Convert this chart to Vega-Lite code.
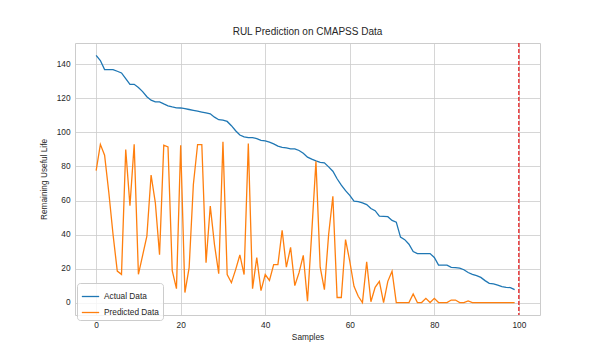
{
  "$schema": "https://vega.github.io/schema/vega-lite/v6.json",
  "width": 465,
  "height": 272,
  "autosize": {"type": "none"},
  "padding": {"left": 75, "top": 43, "right": 60, "bottom": 45},
  "background": "white",
  "config": {
    "font": "Liberation Sans",
    "view": {"stroke": "#cccccc", "strokeWidth": 1},
    "axis": {"grid": true, "gridColor": "#cccccc", "gridWidth": 0.8, "domain": false, "ticks": false, "labelFont": "Liberation Sans", "labelFontSize": 8.3, "labelColor": "#262626", "titleFont": "Liberation Sans", "titleFontSize": 8.3, "titleFontWeight": "normal", "titleColor": "#262626"},
    "title": {"font": "Liberation Sans", "fontSize": 10, "fontWeight": "normal", "color": "#262626", "offset": 5}
  },
  "title": {"text": "RUL Prediction on CMAPSS Data", "anchor": "middle"},
  "datasets": {
    "series": [
      {"sample":0,"series":"Actual Data","value":145.3},{"sample":1,"series":"Actual Data","value":142.3},{"sample":2,"series":"Actual Data","value":137},{"sample":3,"series":"Actual Data","value":137},{"sample":4,"series":"Actual Data","value":137},{"sample":5,"series":"Actual Data","value":136},{"sample":6,"series":"Actual Data","value":135},{"sample":7,"series":"Actual Data","value":131.6},{"sample":8,"series":"Actual Data","value":128.3},{"sample":9,"series":"Actual Data","value":128.3},
      {"sample":10,"series":"Actual Data","value":126.4},{"sample":11,"series":"Actual Data","value":124},{"sample":12,"series":"Actual Data","value":121},{"sample":13,"series":"Actual Data","value":119},{"sample":14,"series":"Actual Data","value":118},{"sample":15,"series":"Actual Data","value":118},{"sample":16,"series":"Actual Data","value":116.8},{"sample":17,"series":"Actual Data","value":115.7},{"sample":18,"series":"Actual Data","value":115},{"sample":19,"series":"Actual Data","value":114.5},
      {"sample":20,"series":"Actual Data","value":114.4},{"sample":21,"series":"Actual Data","value":114},{"sample":22,"series":"Actual Data","value":113.5},{"sample":23,"series":"Actual Data","value":113},{"sample":24,"series":"Actual Data","value":112.5},{"sample":25,"series":"Actual Data","value":112},{"sample":26,"series":"Actual Data","value":111.5},{"sample":27,"series":"Actual Data","value":111},{"sample":28,"series":"Actual Data","value":109},{"sample":29,"series":"Actual Data","value":107.5},
      {"sample":30,"series":"Actual Data","value":107.3},{"sample":31,"series":"Actual Data","value":106.5},{"sample":32,"series":"Actual Data","value":104},{"sample":33,"series":"Actual Data","value":101},{"sample":34,"series":"Actual Data","value":98.5},{"sample":35,"series":"Actual Data","value":97.4},{"sample":36,"series":"Actual Data","value":97},{"sample":37,"series":"Actual Data","value":97},{"sample":38,"series":"Actual Data","value":96.4},{"sample":39,"series":"Actual Data","value":95.4},
      {"sample":40,"series":"Actual Data","value":95},{"sample":41,"series":"Actual Data","value":94.3},{"sample":42,"series":"Actual Data","value":93.3},{"sample":43,"series":"Actual Data","value":92},{"sample":44,"series":"Actual Data","value":91.3},{"sample":45,"series":"Actual Data","value":91},{"sample":46,"series":"Actual Data","value":90.4},{"sample":47,"series":"Actual Data","value":90.4},{"sample":48,"series":"Actual Data","value":89.4},{"sample":49,"series":"Actual Data","value":87.8},
      {"sample":50,"series":"Actual Data","value":85.5},{"sample":51,"series":"Actual Data","value":84.3},{"sample":52,"series":"Actual Data","value":83.3},{"sample":53,"series":"Actual Data","value":82.4},{"sample":54,"series":"Actual Data","value":82.2},{"sample":55,"series":"Actual Data","value":79.8},{"sample":56,"series":"Actual Data","value":77.2},{"sample":57,"series":"Actual Data","value":72.8},{"sample":58,"series":"Actual Data","value":69},{"sample":59,"series":"Actual Data","value":65.8},
      {"sample":60,"series":"Actual Data","value":63},{"sample":61,"series":"Actual Data","value":59.6},{"sample":62,"series":"Actual Data","value":59.4},{"sample":63,"series":"Actual Data","value":58.6},{"sample":64,"series":"Actual Data","value":57.6},{"sample":65,"series":"Actual Data","value":55.3},{"sample":66,"series":"Actual Data","value":54},{"sample":67,"series":"Actual Data","value":50.8},{"sample":68,"series":"Actual Data","value":50.7},{"sample":69,"series":"Actual Data","value":50.5},
      {"sample":70,"series":"Actual Data","value":48.3},{"sample":71,"series":"Actual Data","value":47.3},{"sample":72,"series":"Actual Data","value":38.5},{"sample":73,"series":"Actual Data","value":37},{"sample":74,"series":"Actual Data","value":34.3},{"sample":75,"series":"Actual Data","value":30},{"sample":76,"series":"Actual Data","value":28.8},{"sample":77,"series":"Actual Data","value":28.8},{"sample":78,"series":"Actual Data","value":28.8},{"sample":79,"series":"Actual Data","value":28.8},
      {"sample":80,"series":"Actual Data","value":26.5},{"sample":81,"series":"Actual Data","value":22},{"sample":82,"series":"Actual Data","value":22},{"sample":83,"series":"Actual Data","value":22},{"sample":84,"series":"Actual Data","value":20.7},{"sample":85,"series":"Actual Data","value":20.5},{"sample":86,"series":"Actual Data","value":20.3},{"sample":87,"series":"Actual Data","value":19.3},{"sample":88,"series":"Actual Data","value":17.7},{"sample":89,"series":"Actual Data","value":16.6},
      {"sample":90,"series":"Actual Data","value":15.8},{"sample":91,"series":"Actual Data","value":14.8},{"sample":92,"series":"Actual Data","value":12.9},{"sample":93,"series":"Actual Data","value":11.3},{"sample":94,"series":"Actual Data","value":11},{"sample":95,"series":"Actual Data","value":10.3},{"sample":96,"series":"Actual Data","value":9.4},{"sample":97,"series":"Actual Data","value":9},{"sample":98,"series":"Actual Data","value":8.8},{"sample":99,"series":"Actual Data","value":7.6},
      {"sample":0,"series":"Predicted Data","value":77.6},{"sample":1,"series":"Predicted Data","value":93},{"sample":2,"series":"Predicted Data","value":86.6},{"sample":3,"series":"Predicted Data","value":64.7},{"sample":4,"series":"Predicted Data","value":40},{"sample":5,"series":"Predicted Data","value":18.5},{"sample":6,"series":"Predicted Data","value":16.6},{"sample":7,"series":"Predicted Data","value":90},{"sample":8,"series":"Predicted Data","value":57},{"sample":9,"series":"Predicted Data","value":93},
      {"sample":10,"series":"Predicted Data","value":16.6},{"sample":11,"series":"Predicted Data","value":27.7},{"sample":12,"series":"Predicted Data","value":39},{"sample":13,"series":"Predicted Data","value":75},{"sample":14,"series":"Predicted Data","value":58.8},{"sample":15,"series":"Predicted Data","value":28.2},{"sample":16,"series":"Predicted Data","value":92.5},{"sample":17,"series":"Predicted Data","value":91.5},{"sample":18,"series":"Predicted Data","value":18.8},{"sample":19,"series":"Predicted Data","value":8.2},
      {"sample":20,"series":"Predicted Data","value":92.5},{"sample":21,"series":"Predicted Data","value":5.9},{"sample":22,"series":"Predicted Data","value":20.5},{"sample":23,"series":"Predicted Data","value":69.4},{"sample":24,"series":"Predicted Data","value":92.9},{"sample":25,"series":"Predicted Data","value":92.9},{"sample":26,"series":"Predicted Data","value":23.5},{"sample":27,"series":"Predicted Data","value":56.7},{"sample":28,"series":"Predicted Data","value":34},{"sample":29,"series":"Predicted Data","value":17},
      {"sample":30,"series":"Predicted Data","value":94.6},{"sample":31,"series":"Predicted Data","value":16.5},{"sample":32,"series":"Predicted Data","value":11.7},{"sample":33,"series":"Predicted Data","value":19.4},{"sample":34,"series":"Predicted Data","value":28},{"sample":35,"series":"Predicted Data","value":16.5},{"sample":36,"series":"Predicted Data","value":93.5},{"sample":37,"series":"Predicted Data","value":8.2},{"sample":38,"series":"Predicted Data","value":26.5},{"sample":39,"series":"Predicted Data","value":7},
      {"sample":40,"series":"Predicted Data","value":16.5},{"sample":41,"series":"Predicted Data","value":13},{"sample":42,"series":"Predicted Data","value":22.3},{"sample":43,"series":"Predicted Data","value":22.3},{"sample":44,"series":"Predicted Data","value":42.5},{"sample":45,"series":"Predicted Data","value":20.8},{"sample":46,"series":"Predicted Data","value":32.5},{"sample":47,"series":"Predicted Data","value":10},{"sample":48,"series":"Predicted Data","value":17.6},{"sample":49,"series":"Predicted Data","value":27.8},
      {"sample":50,"series":"Predicted Data","value":0.8},{"sample":51,"series":"Predicted Data","value":41},{"sample":52,"series":"Predicted Data","value":83},{"sample":53,"series":"Predicted Data","value":20.8},{"sample":54,"series":"Predicted Data","value":7.6},{"sample":55,"series":"Predicted Data","value":40},{"sample":56,"series":"Predicted Data","value":62.5},{"sample":57,"series":"Predicted Data","value":3},{"sample":58,"series":"Predicted Data","value":3},{"sample":59,"series":"Predicted Data","value":37},
      {"sample":60,"series":"Predicted Data","value":24.3},{"sample":61,"series":"Predicted Data","value":9.6},{"sample":62,"series":"Predicted Data","value":3.7},{"sample":63,"series":"Predicted Data","value":0},{"sample":64,"series":"Predicted Data","value":24},{"sample":65,"series":"Predicted Data","value":0.5},{"sample":66,"series":"Predicted Data","value":9},{"sample":67,"series":"Predicted Data","value":12.5},{"sample":68,"series":"Predicted Data","value":0},{"sample":69,"series":"Predicted Data","value":12.5},
      {"sample":70,"series":"Predicted Data","value":18.4},{"sample":71,"series":"Predicted Data","value":0},{"sample":72,"series":"Predicted Data","value":0},{"sample":73,"series":"Predicted Data","value":0},{"sample":74,"series":"Predicted Data","value":0},{"sample":75,"series":"Predicted Data","value":5},{"sample":76,"series":"Predicted Data","value":0},{"sample":77,"series":"Predicted Data","value":0},{"sample":78,"series":"Predicted Data","value":2.5},{"sample":79,"series":"Predicted Data","value":0},
      {"sample":80,"series":"Predicted Data","value":2.5},{"sample":81,"series":"Predicted Data","value":0},{"sample":82,"series":"Predicted Data","value":0},{"sample":83,"series":"Predicted Data","value":0},{"sample":84,"series":"Predicted Data","value":1.5},{"sample":85,"series":"Predicted Data","value":1.5},{"sample":86,"series":"Predicted Data","value":0},{"sample":87,"series":"Predicted Data","value":0},{"sample":88,"series":"Predicted Data","value":1},{"sample":89,"series":"Predicted Data","value":0},
      {"sample":90,"series":"Predicted Data","value":0},{"sample":91,"series":"Predicted Data","value":0},{"sample":92,"series":"Predicted Data","value":0},{"sample":93,"series":"Predicted Data","value":0},{"sample":94,"series":"Predicted Data","value":0},{"sample":95,"series":"Predicted Data","value":0},{"sample":96,"series":"Predicted Data","value":0},{"sample":97,"series":"Predicted Data","value":0},{"sample":98,"series":"Predicted Data","value":0},{"sample":99,"series":"Predicted Data","value":0}
    ],
    "cutoff": [{"sample": 100}]
  },
  "layer": [
    {
      "data": {"name": "series"},
      "mark": {"type": "line", "strokeWidth": 1.3, "clip": true},
      "encoding": {
        "x": {"field": "sample", "type": "quantitative", "title": "Samples",
              "scale": {"domain": [-5, 105], "nice": false, "zero": false},
              "axis": {"values": [0, 20, 40, 60, 80, 100], "labelPadding": 5, "titlePadding": 4}},
        "y": {"field": "value", "type": "quantitative", "title": "Remaining Useful Life",
              "scale": {"domain": [-7.3, 152.6], "nice": false, "zero": false},
              "axis": {"values": [0, 20, 40, 60, 80, 100, 120, 140], "labelPadding": 5, "titlePadding": 8}},
        "color": {"field": "series", "type": "nominal",
                  "scale": {"domain": ["Actual Data", "Predicted Data"], "range": ["#1f77b4", "#ff7f0e"]},
                  "legend": {"title": null, "orient": "none", "legendX": 2, "legendY": 240,
                             "symbolType": "stroke", "symbolSize": 300, "symbolStrokeWidth": 1.3,
                             "labelFontSize": 8.3, "labelColor": "#262626", "labelFont": "Liberation Sans",
                             "padding": 4, "rowPadding": 3, "cornerRadius": 3,
                             "strokeColor": "#cccccc", "fillColor": "rgba(255,255,255,0.8)"}}
      }
    },
    {
      "data": {"name": "cutoff"},
      "mark": {"type": "rule", "color": "#e31a1c", "strokeWidth": 1.3, "strokeDash": [4, 2]},
      "encoding": {"x": {"field": "sample", "type": "quantitative"}}
    }
  ]
}
